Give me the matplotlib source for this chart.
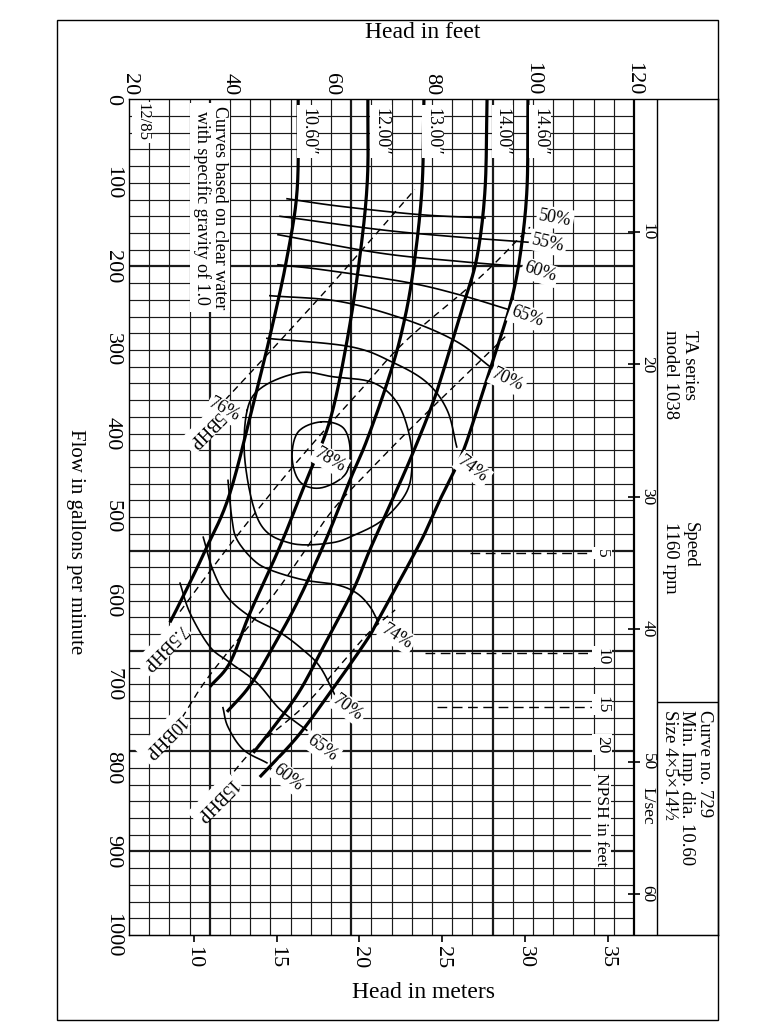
import numpy as np
import matplotlib
matplotlib.use("Agg")
import matplotlib.pyplot as plt
from matplotlib.patches import Rectangle

plt.rcParams['font.family'] = ['Liberation Serif', 'DejaVu Serif']

# ---- data (head in feet, flow in gpm) ----
imp_1460_ft = [99.0, 98.8, 97.4, 95.4, 92.1, 88.9, 85.9, 81.6, 78.2, 73.7, 69.7, 67.1, 59.8, 53.3, 45.9]
imp_1460_q = [0, 108, 189, 248, 312, 372, 425, 479, 524, 575, 619, 647, 710, 763, 811]
imp_1400_ft = [90.9, 90.5, 88.9, 86.1, 82.6, 80.0, 75.6, 71.7, 67.7, 64.4, 59.2, 53.9, 48.9, 44.6]
imp_1400_q = [0, 108, 189, 248, 318, 366, 432, 485, 539, 587, 647, 707, 749, 782]
imp_1300_ft = [78.4, 78.0, 76.2, 74.1, 71.3, 67.1, 63.8, 59.2, 53.9, 49.3, 44.0, 39.4]
imp_1300_q = [0, 108, 208, 276, 336, 408, 455, 524, 595, 647, 701, 733]
imp_1200_ft = [67.3, 67.2, 65.7, 63.2, 59.8, 55.2, 49.9, 44.0, 40.0, 36.0]
imp_1200_q = [0, 97, 189, 288, 384, 455, 535, 614, 674, 703]
imp_1060_ft = [53.5, 53.3, 51.3, 48.5, 45.3, 40.0, 35.4, 30.7, 28.1]
imp_1060_q = [0, 108, 189, 268, 348, 471, 536, 595, 626]

imp_labels = ['10.60″', '12.00″', '13.00″', '14.00″', '14.60″']
imp_label_ft = [55.4, 69.9, 80.2, 93.9, 101.4]

# efficiency lines
eff50_ft = [51.3, 61.8, 77.6, 90.5]
eff50_q = [119, 128, 138, 142]
eff55_ft = [49.9, 69.7, 83.6, 99.0]
eff55_q = [140, 156, 164, 171]
eff60_ft = [49.5, 69.7, 85.5, 97.4]
eff60_q = [162, 184, 194, 200]
eff65_ft = [49.5, 58.4, 75.0, 85.5, 95.4]
eff65_q = [198, 204, 219, 234, 252]
eff70_ft = [47.9, 61.8, 75.0, 84.9, 91.5]
eff70_q = [235, 242, 264, 290, 320]
eff74_ft = [47.3, 63.8, 72.3, 79.0, 83.0, 84.9]
eff74_q = [286, 296, 315, 339, 372, 416]
eff76_ft = [43.4, 46.5, 53.9, 60.4, 68.3, 73.1, 75.6, 76.0, 74.7, 70.3, 64.8, 59.8, 51.9, 45.9, 43.0]
eff76_q = [372, 344, 327, 332, 339, 363, 404, 443, 473, 503, 521, 531, 531, 507, 435]
eff78_ft = [58.0, 62.4, 63.8, 62.8, 58.0, 53.9, 52.3, 53.5]
eff78_q = [386, 393, 420, 449, 465, 458, 429, 398]
eff74b_ft = [39.6, 40.4, 41.4, 44.6, 47.9, 54.5, 61.2, 65.1, 67.7, 69.3]
eff74b_q = [456, 503, 527, 551, 563, 575, 581, 591, 607, 625]
eff70b_ft = [34.7, 36.6, 39.4, 44.0, 49.9, 54.5, 57.8, 60.8]
eff70b_q = [524, 563, 595, 619, 638, 659, 679, 713]
eff65b_ft = [30.1, 32.1, 36.0, 40.0, 45.3, 49.9, 55.2]
eff65b_q = [579, 615, 655, 674, 698, 730, 755]
eff60b_ft = [38.6, 39.6, 42.6, 47.3]
eff60b_q = [728, 751, 778, 794]

# efficiency labels: text, head ft, flow gpm, rotation
eff_text = ['50%', '55%', '60%', '65%', '70%', '74%', '76%', '78%', '74%', '70%', '65%', '60%']
eff_lab_ft = [104.4, 103.0, 101.4, 98.8, 95.0, 88.1, 39.0, 59.8, 73.1, 63.4, 58.2, 51.5]
eff_lab_q = [142, 172, 207, 260, 336, 443, 372, 432, 643, 728, 776, 812]
eff_lab_rot = [-10, -13, -18, -20, -25, -37, -28, -30, -32, -36, -36, -38]

# brake horsepower lines
bhp5_ft = [39.0, 49.9, 61.8, 76.6]
bhp5_q = [360, 289, 210, 108]
bhp75_ft = [30.1, 39.0, 47.9, 55.8, 66.3, 75.0, 89.5, 99.4]
bhp75_q = [613, 541, 473, 416, 345, 288, 213, 153]
bhp10_ft = [30.5, 36.0, 47.9, 54.5, 60.4, 69.1, 75.6, 83.6, 94.5]
bhp10_q = [740, 689, 599, 543, 491, 435, 395, 348, 284]
bhp15_ft = [36.6, 44.0, 54.5, 62.4, 67.7, 72.7]
bhp15_q = [838, 782, 727, 673, 637, 611]
bhp_text = ['5BHP', '7.5BHP', '10BHP', '15BHP']
bhp_lab_ft = [34.9, 26.7, 26.7, 37.0]
bhp_lab_q = [396, 656, 763, 838]

# NPSH
npsh_vals = ['5', '10', '15', '20']
npsh_q = [543, 667, 724, 772]
npsh_dash_q = [543, 662, 727]
npsh_dash_from = [87.5, 78.6, 81.0]
npsh_dash_to = 111.9

flow_ticks = list(range(0, 1001, 100))
head_ft_ticks = [20, 40, 60, 80, 100, 120]
head_m_ticks = [10, 15, 20, 25, 30, 35]
lsec_ticks = [10, 20, 30, 40, 50, 60]


def spline(x, y, closed=False, n=16):
    p = np.column_stack([x, y]).astype(float)
    if closed:
        p = np.vstack([p[-1], p, p[0], p[1]])
    else:
        p = np.vstack([2 * p[0] - p[1], p, 2 * p[-1] - p[-2]])
    out = []
    t = np.linspace(0, 1, n, endpoint=False)[:, None]
    for i in range(1, len(p) - 2):
        p0, p1, p2, p3 = p[i - 1], p[i], p[i + 1], p[i + 2]
        seg = 0.5 * (2 * p1 + (-p0 + p2) * t + (2 * p0 - 5 * p1 + 4 * p2 - p3) * t ** 2
                     + (-p0 + 3 * p1 - 3 * p2 + p3) * t ** 3)
        out.append(seg)
    out.append(p[-2][None, :])
    s = np.vstack(out)
    return s[:, 0], s[:, 1]


fig = plt.figure(figsize=(7.68, 10.24), dpi=100)
ax = fig.add_axes([129 / 768, 1 - 935 / 1024, 589 / 768, 835.7 / 1024])
xmax = 20 + 589 / 5.05
ax.set_xlim(20, xmax)
ax.set_ylim(1000, 0)
for s in ax.spines.values():
    s.set_linewidth(1.0)

gc = '0.1'
wbox = dict(boxstyle='square,pad=0.12', fc='white', ec='none')
# grid
for f in range(24, 120, 4):
    ax.vlines(f, 0, 1000, color=gc, lw=1.6 if f in (36, 64, 92) else 0.85, zorder=1)
for q in range(20, 1000, 20):
    ax.hlines(q, 20, 120, color=gc, lw=1.6 if q in (200, 540, 660, 780, 900) else 0.85, zorder=1)
ax.vlines(120, 0, 1000, color='k', lw=1.6, zorder=1)
ax.vlines(20 + 528 / 5.05, 0, 1000, color='k', lw=1.0)
ax.hlines(721, 20 + 528 / 5.05, xmax, color='k', lw=1.0)

# impeller curves
for hx, qy in [(imp_1460_ft, imp_1460_q), (imp_1400_ft, imp_1400_q), (imp_1300_ft, imp_1300_q),
               (imp_1200_ft, imp_1200_q), (imp_1060_ft, imp_1060_q)]:
    sx, sy = spline(hx, qy)
    ax.plot(sx, sy, color='k', lw=2.3, solid_capstyle='butt', zorder=2.5)
for t, f in zip(imp_labels, imp_label_ft):
    ax.text(f, 10, t, rotation=-90, ha='center', va='top', fontsize=13, bbox=wbox, zorder=4)

# efficiency curves
for hx, qy in [(eff50_ft, eff50_q), (eff55_ft, eff55_q), (eff60_ft, eff60_q), (eff65_ft, eff65_q),
               (eff70_ft, eff70_q), (eff74_ft, eff74_q), (eff74b_ft, eff74b_q), (eff70b_ft, eff70b_q),
               (eff65b_ft, eff65b_q), (eff60b_ft, eff60b_q)]:
    sx, sy = spline(hx, qy)
    ax.plot(sx, sy, color='k', lw=1.2, zorder=2.2)
for hx, qy in [(eff76_ft, eff76_q), (eff78_ft, eff78_q)]:
    sx, sy = spline(hx, qy, closed=True)
    ax.plot(sx, sy, color='k', lw=1.2, zorder=2.2)
for t, f, q, r in zip(eff_text, eff_lab_ft, eff_lab_q, eff_lab_rot):
    ax.text(f, q, t, rotation=r, ha='center', va='center', fontsize=13, bbox=wbox, zorder=4)

# BHP dashed lines
for hx, qy in [(bhp5_ft, bhp5_q), (bhp75_ft, bhp75_q), (bhp10_ft, bhp10_q), (bhp15_ft, bhp15_q)]:
    sx, sy = spline(hx, qy)
    ax.plot(sx, sy, color='k', lw=1.0, dashes=(5, 3.5), zorder=2.1)
for t, f, q in zip(bhp_text, bhp_lab_ft, bhp_lab_q):
    ax.text(f, q, t, rotation=225, ha='center', va='center', fontsize=13, bbox=wbox, zorder=4)

# NPSH
for q, f0 in zip(npsh_dash_q, npsh_dash_from):
    ax.hlines(q, f0, npsh_dash_to, color='k', lw=1.0, linestyles=(0, (7, 4)), zorder=2.1)
for t, q in zip(npsh_vals, npsh_q):
    ax.text(113.7, q, t, rotation=-90, ha='center', va='center', fontsize=12.5,
            bbox=dict(boxstyle='square,pad=0.1', fc='white', ec='none'), zorder=4)
ax.text(113.5, 862, 'NPSH in feet', rotation=-90, ha='center', va='center', fontsize=12.5,
        bbox=dict(boxstyle='square,pad=0.1', fc='white', ec='none'), zorder=4)

# L/sec scale at the right
for v in lsec_ticks:
    q = v * 15.85
    ax.hlines(q, 118.8, 121.2, color='k', lw=1.2, zorder=3)
    ax.text(121.1, q, str(v), rotation=-90, ha='left', va='center', fontsize=12.5)
ax.text(121.1, 845, 'L/sec', rotation=-90, ha='left', va='center', fontsize=12.5)

# notes
ax.text(22.6, 5, '12/85', rotation=-90, ha='center', va='top', fontsize=12,
        bbox=dict(boxstyle='square,pad=0.1', fc='white', ec='none'), zorder=4)
ax.text(36.1, 8, 'Curves based on clear water\nwith specific gravity of 1.0', rotation=-90,
        ha='center', va='top', multialignment='center', fontsize=13, linespacing=1.0,
        bbox=dict(boxstyle='square,pad=0.15', fc='white', ec='none'), zorder=4)

box_x = 20 + (680 - 129) / 5.05
ax.text(box_x, (330 - 99.3) / 0.836, 'TA series\nmodel 1038', rotation=-90, rotation_mode='anchor',
        ha='left', va='center', multialignment='left', fontsize=13.5, linespacing=1.2)
ax.text(box_x, (522 - 99.3) / 0.836, 'Speed\n1160 rpm', rotation=-90, rotation_mode='anchor',
        ha='left', va='center', multialignment='left', fontsize=13.5, linespacing=1.2)
ax.text(20 + (687 - 129) / 5.05, (710 - 99.3) / 0.836, 'Curve no. 729\nMin. Imp. dia. 10.60\nSize 4×5×14½',
        rotation=-90, rotation_mode='anchor', ha='left', va='center', multialignment='left',
        fontsize=13.5, linespacing=1.05)

# axes ticks and titles
ax.xaxis.tick_top()
ax.set_xticks(head_ft_ticks)
ax.tick_params(axis='x', length=0, pad=3, labelsize=16, labelrotation=-90)
ax.set_yticks(flow_ticks)
ax.tick_params(axis='y', length=0, pad=5, labelsize=16, labelrotation=-90)
for lab in ax.get_yticklabels():
    lab.set_va('center')

sec = ax.secondary_xaxis('bottom', functions=(lambda f: f * 0.3048, lambda m: m / 0.3048))
sec.set_xticks(head_m_ticks)
sec.tick_params(axis='x', length=5, width=1.2, direction='out', pad=3, labelsize=16, labelrotation=-90)

fig.text(423 / 768, 1 - 33 / 1024, 'Head in feet', ha='center', va='center', fontsize=17)
fig.text(424 / 768, 1 - 993 / 1024, 'Head in meters', ha='center', va='center', fontsize=17)
fig.text(75 / 768, 1 - 542 / 1024, 'Flow in gallons per minute', rotation=-90, ha='center', va='center',
         fontsize=15)

fig.add_artist(Rectangle((57 / 768, 1 - 1020 / 1024), 661 / 768, 1000 / 1024,
                         transform=fig.transFigure, fill=False, lw=1.0, ec='k'))

fig.savefig('out.png', dpi=100)
